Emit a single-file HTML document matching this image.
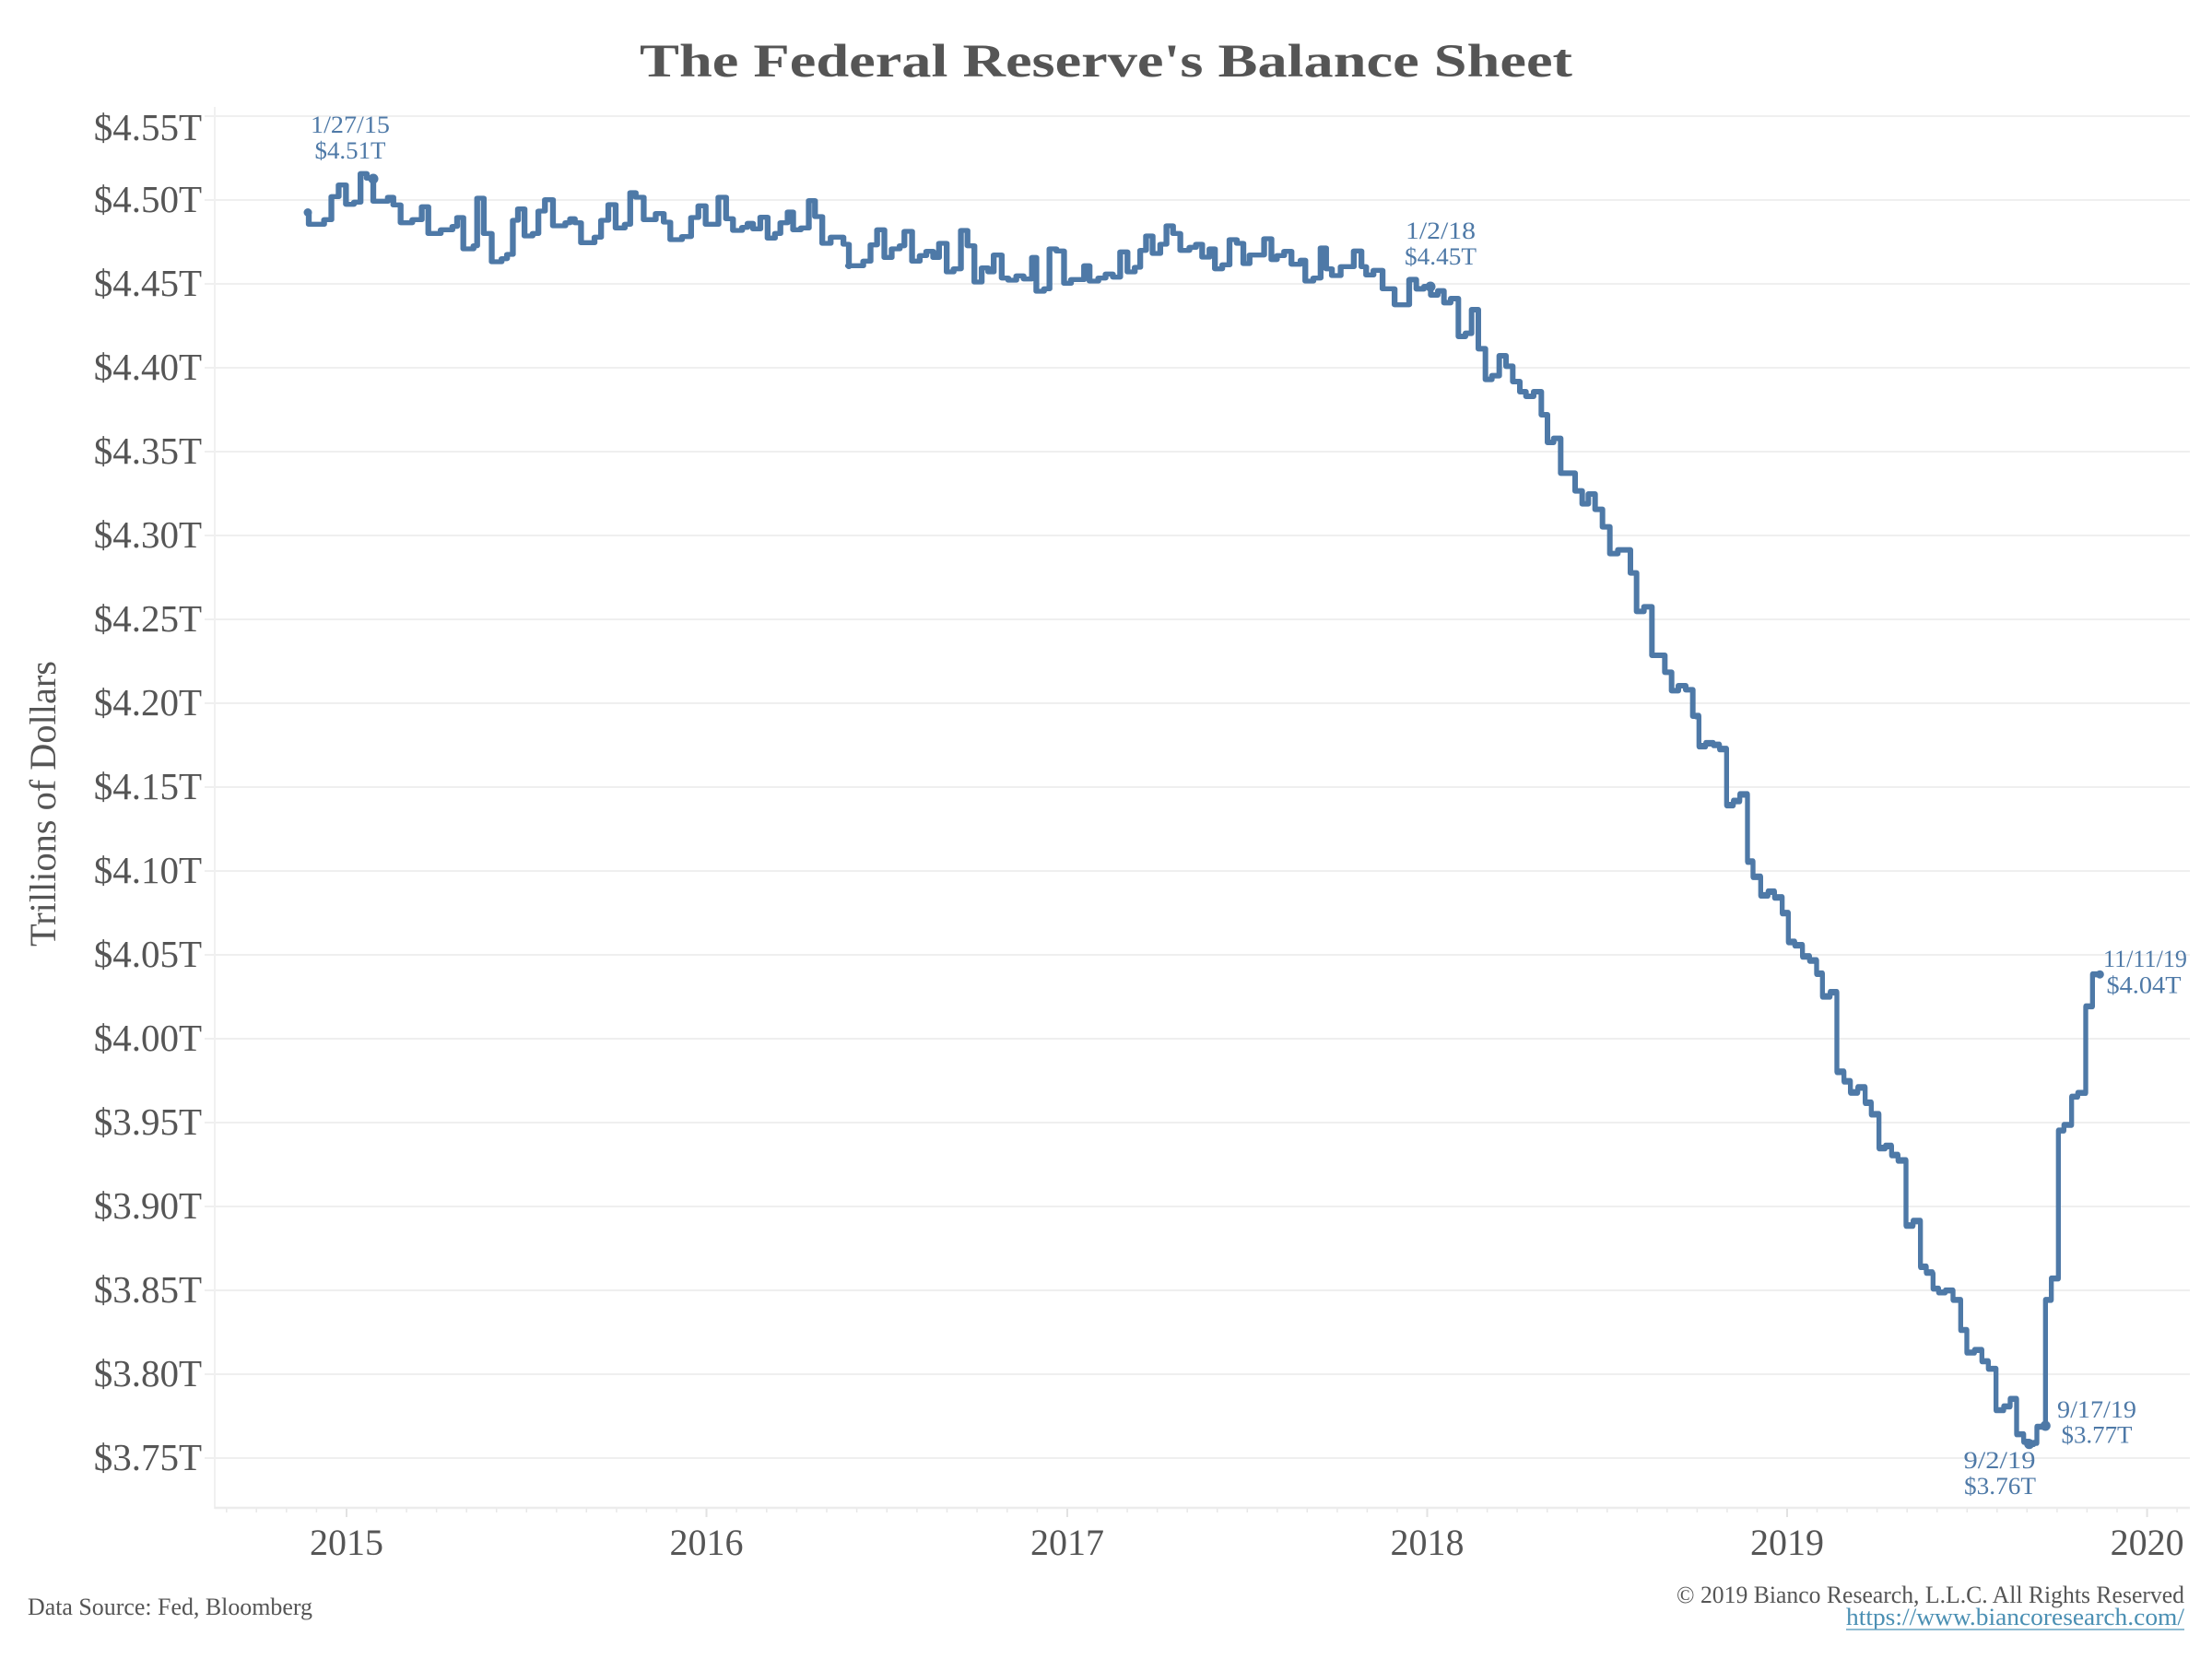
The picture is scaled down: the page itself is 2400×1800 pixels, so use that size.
<!DOCTYPE html>
<html>
<head>
<meta charset="utf-8">
<style>
html,body{margin:0;padding:0;background:#fff;}
svg{display:block;}
text{font-family:"Liberation Serif",serif;}
</style>
</head>
<body>
<svg width="2400" height="1800" viewBox="0 0 2400 1800" xmlns="http://www.w3.org/2000/svg">
<rect x="0" y="0" width="2400" height="1800" fill="#fff"/>

<!-- Title -->
<text x="1200" y="83" text-anchor="middle" font-size="51" font-weight="bold" fill="#555555" textLength="1012" lengthAdjust="spacingAndGlyphs">The Federal Reserve's Balance Sheet</text>

<!-- gridlines -->
<g stroke="#efefef" stroke-width="2">
<line x1="222" y1="126" x2="2376" y2="126"/>
<line x1="222" y1="217" x2="2376" y2="217"/>
<line x1="222" y1="308" x2="2376" y2="308"/>
<line x1="222" y1="399" x2="2376" y2="399"/>
<line x1="222" y1="490" x2="2376" y2="490"/>
<line x1="222" y1="581" x2="2376" y2="581"/>
<line x1="222" y1="672" x2="2376" y2="672"/>
<line x1="222" y1="763" x2="2376" y2="763"/>
<line x1="222" y1="854" x2="2376" y2="854"/>
<line x1="222" y1="945" x2="2376" y2="945"/>
<line x1="222" y1="1036" x2="2376" y2="1036"/>
<line x1="222" y1="1127" x2="2376" y2="1127"/>
<line x1="222" y1="1218" x2="2376" y2="1218"/>
<line x1="222" y1="1309" x2="2376" y2="1309"/>
<line x1="222" y1="1400" x2="2376" y2="1400"/>
<line x1="222" y1="1491" x2="2376" y2="1491"/>
<line x1="222" y1="1582" x2="2376" y2="1582"/>
</g>
<!-- axes -->
<line x1="233" y1="116" x2="233" y2="1637" stroke="#f0f0f0" stroke-width="2"/>
<line x1="233" y1="1636" x2="2376" y2="1636" stroke="#ececec" stroke-width="2.5"/>

<!-- x ticks -->
<path fill="none" stroke="#e8e8e8" stroke-width="1.5" d="
M245.8,1637V1641 M278.2,1637V1641 M310.8,1637V1641 M343.4,1637V1641
M408.5,1637V1641 M441.1,1637V1641 M473.6,1637V1641 M506.2,1637V1641 M538.7,1637V1641 M571.3,1637V1641 M603.8,1637V1641 M636.3,1637V1641 M668.9,1637V1641 M701.4,1637V1641 M734,1637V1641
M799.1,1637V1641 M831.8,1637V1641 M864.4,1637V1641 M897,1637V1641 M929.6,1637V1641 M962.3,1637V1641 M994.9,1637V1641 M1027.5,1637V1641 M1060.1,1637V1641 M1092.8,1637V1641 M1125.4,1637V1641
M1190.5,1637V1641 M1223.1,1637V1641 M1255.6,1637V1641 M1288.2,1637V1641 M1320.7,1637V1641 M1353.3,1637V1641 M1385.8,1637V1641 M1418.3,1637V1641 M1450.9,1637V1641 M1483.4,1637V1641 M1516,1637V1641
M1581,1637V1641 M1613.6,1637V1641 M1646.1,1637V1641 M1678.7,1637V1641 M1711.2,1637V1641 M1743.8,1637V1641 M1776.3,1637V1641 M1808.8,1637V1641 M1841.4,1637V1641 M1873.9,1637V1641 M1906.5,1637V1641
M1971.5,1637V1641 M2004.1,1637V1641 M2036.6,1637V1641 M2069.2,1637V1641 M2101.7,1637V1641 M2134.3,1637V1641 M2166.8,1637V1641 M2199.3,1637V1641 M2231.9,1637V1641 M2264.4,1637V1641 M2297,1637V1641
M2362.1,1637V1641"/>
<path fill="none" stroke="#e2e2e2" stroke-width="2" d="M376,1637V1646 M766.5,1637V1646 M1158,1637V1646 M1548.5,1637V1646 M1939,1637V1646 M2329.6,1637V1646"/>

<!-- y labels -->
<g font-size="41" fill="#555555" text-anchor="end">
<text x="219" y="152">$4.55T</text>
<text x="219" y="230">$4.50T</text>
<text x="219" y="321">$4.45T</text>
<text x="219" y="412">$4.40T</text>
<text x="219" y="503">$4.35T</text>
<text x="219" y="594">$4.30T</text>
<text x="219" y="685">$4.25T</text>
<text x="219" y="776">$4.20T</text>
<text x="219" y="867">$4.15T</text>
<text x="219" y="958">$4.10T</text>
<text x="219" y="1049">$4.05T</text>
<text x="219" y="1140">$4.00T</text>
<text x="219" y="1231">$3.95T</text>
<text x="219" y="1322">$3.90T</text>
<text x="219" y="1413">$3.85T</text>
<text x="219" y="1504">$3.80T</text>
<text x="219" y="1595">$3.75T</text>
</g>

<!-- y axis title -->
<text transform="translate(60,872) rotate(-90)" text-anchor="middle" font-size="40" fill="#555555" textLength="310" lengthAdjust="spacingAndGlyphs">Trillions of Dollars</text>

<!-- x labels -->
<g font-size="40" fill="#555555" text-anchor="middle">
<text x="376" y="1687">2015</text>
<text x="766.5" y="1687">2016</text>
<text x="1158" y="1687">2017</text>
<text x="1548.5" y="1687">2018</text>
<text x="1939" y="1687">2019</text>
<text x="2329.6" y="1687">2020</text>
</g>

<!-- data line -->
<g fill="none" stroke="#4e79a7" stroke-linejoin="round" stroke-linecap="round">
<path transform="translate(320,160) scale(0.39542,0.33333)" stroke-width="16" d="M38,212 V250 H80 V235 H100 V160 H120 V122 H140 V185 H162 V178 H180 V85 H197 V100 H215 V175 H255 V162 H270 V187 H290 V245 H322 V235 H348 V193 H366 V280 H400 V268 H432 V257 H445 V228 H462 V330 H490 V320 H500 V165 H518 V280 H540 V372 H567 V362 H582 V348 H598 V237 H612 V200 H630 V288 H652 V280 H668 V207 H686 V170 H708 V255 H742 V245 H755 V232 H768 V245 H785 V310 H822 V292 H840 V237 H860 V186 H880 V262 H905 V250 H920 V147 H935 V162 H957 V235 H990 V215 H1012 V243 H1030 V300 H1062 V290 H1087 V228 H1107 V190 H1127 V250 H1162 V162 H1183 V232 H1202 V270 H1227 V260 H1242 V247 H1257 V265 H1277 V227 H1297 V295 H1317 V280 H1332 V245 H1352 V210 H1367 V268 H1388 V262 H1410 V173 H1427 V225 H1447 V312 H1470 V292 H1505 V315 H1520 V388"/>
<path transform="translate(920,200) scale(0.39542,0.33333)" stroke-width="16" d="M0,265 H42 V250 H62 V197 H80 V148 H100 V238 H120 V210 H142 V200 H155 V153 H176 V250 H197 V232 H215 V218 H234 V238 H250 V192 H271 V285 H290 V275 H310 V150 H328 V200 H347 V318 H367 V272 H385 V285 H400 V230 H422 V305 H440 V312 H462 V298 H482 V308 H505 V238 H517 V348 H538 V340 H553 V210 H572 V217 H593 V322 H612 V310 H648 V265 H663 V315 H687 V305 H707 V292 H727 V302 H747 V220 H767 V285 H787 V270 H802 V215 H818 V168 H836 V225 H857 V195 H874 V135 H892 V160 H912 V215 H937 V205 H955 V195 H972 V237 H992 V210 H1007 V275 H1027 V262 H1047 V180 H1067 V192 H1085 V258 H1102 V230 H1142 V177 H1162 V245 H1177 V232 H1197 V218 H1217 V260 H1242 V247 H1255 V315 H1277 V305 H1297 V207 H1312 V275 H1328 V297 H1352 V268 H1388 V217 H1409 V268 H1422 V295 H1442 V280 H1467 V340 H1500 V392 H1540 V310"/>
<path transform="translate(1520,280) scale(0.33333,0.33333)" stroke-width="18" d="M28,70 H50 V100 H75 V93 H97 V120 H120 V107 H140 V145 H162 V132 H187 V255 H210 V245 H230 V168 H252 V295 H275 V395 H296 V383 H320 V318 H342 V352 H364 V402 H387 V435 H407 V450 H432 V435 H457 V510 H477 V600 H497 V587 H520 V700 H567 V758 H590 V800 H610 V768 H632 V818 H656 V875 H680 V962 H706 V950 H747 V1025 H767 V1150 H791 V1135 H817 V1293 H859 V1348 H881 V1408 H903 V1392 H927 V1405 H950 V1491 H960"/>
<path transform="translate(1840,700) scale(0.33333,0.44723)" stroke-width="16" d="M0,172 H10 V245 H32 V238 H57 V242 H77 V252 H100 V388 H122 V378 H143 V362 H168 V525 H186 V562 H211 V607 H235 V598 H256 V612 H281 V650 H301 V720 H322 V728 H347 V755 H370 V765 H393 V797 H412 V852 H437 V842 H459 V1035 H482 V1058 H503 V1085 H527 V1073 H551 V1110 H571 V1138 H596 V1220 H617 V1215 H637 V1237 H658 V1250 H684 V1408 H707 V1397 H731 V1508 H750 V1522 H770"/>
<path transform="translate(2080,1000) scale(0.33333,0.40833)" stroke-width="16" d="M52,935 V975 H70 V985 H92 V980 H117 V1005 H142 V1085 H162 V1145 H187 V1138 H211 V1168 H232 V1188 H257 V1298 H282 V1288 H303 V1268 H324 V1362 H347 V1382 H365 V1388 H380 V1385 H390 V1342 H418 V1005 H437 V948 H460 V555 H478 V540 H503 V465 H523 V455 H549 V225 H571 V140 H595"/>
</g>

<!-- highlighted points -->
<g fill="#4e79a7">
<circle cx="334" cy="230.5" r="4.5"/>
<circle cx="405" cy="194" r="5.5"/>
<circle cx="1552" cy="311" r="5.5"/>
<circle cx="2201.7" cy="1566.7" r="5.5"/>
<circle cx="2219.3" cy="1547" r="5.5"/>
<circle cx="2278.3" cy="1057.2" r="4.5"/>
</g>

<!-- annotations -->
<g font-size="26" fill="#4e79a7" text-anchor="middle">
<text x="380" y="144" textLength="86" lengthAdjust="spacingAndGlyphs">1/27/15</text>
<text x="380" y="172" textLength="77" lengthAdjust="spacingAndGlyphs">$4.51T</text>
<text x="1563" y="259" textLength="76" lengthAdjust="spacingAndGlyphs">1/2/18</text>
<text x="1563" y="287" textLength="78" lengthAdjust="spacingAndGlyphs">$4.45T</text>
<text x="2327.5" y="1049" textLength="91" lengthAdjust="spacingAndGlyphs">11/11/19</text>
<text x="2326" y="1077.5" textLength="81" lengthAdjust="spacingAndGlyphs">$4.04T</text>
<text x="2275" y="1538" textLength="86" lengthAdjust="spacingAndGlyphs">9/17/19</text>
<text x="2275" y="1565.5" textLength="77" lengthAdjust="spacingAndGlyphs">$3.77T</text>
<text x="2169.5" y="1593" textLength="78" lengthAdjust="spacingAndGlyphs">9/2/19</text>
<text x="2170" y="1621" textLength="78" lengthAdjust="spacingAndGlyphs">$3.76T</text>
</g>

<!-- footer -->
<text x="30" y="1752" font-size="26" fill="#555555" textLength="309" lengthAdjust="spacingAndGlyphs">Data Source: Fed, Bloomberg</text>
<text x="2370" y="1739" text-anchor="end" font-size="26" fill="#555555" textLength="551" lengthAdjust="spacingAndGlyphs">© 2019 Bianco Research, L.L.C. All Rights Reserved</text>
<text x="2370" y="1763" text-anchor="end" font-size="26" fill="#4a8fb3" textLength="367" lengthAdjust="spacingAndGlyphs">https://www.biancoresearch.com/</text>
<line x1="2003" y1="1768" x2="2370" y2="1768" stroke="#6aa6c4" stroke-width="1.5"/>
</svg>
</body>
</html>
